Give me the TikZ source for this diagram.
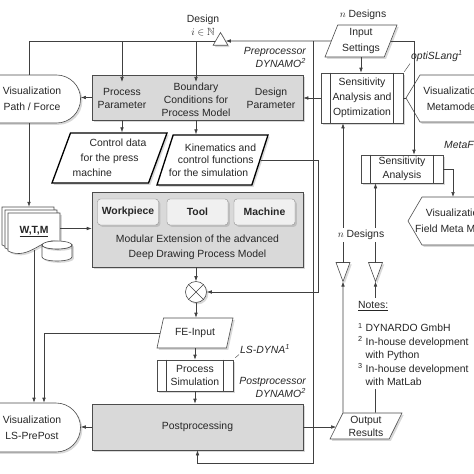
\documentclass[tikz,border=0pt]{standalone}
\usepackage{amssymb}
\usepackage{fontspec}
\setmainfont{Liberation Sans}
\usetikzlibrary{arrows.meta, shapes.geometric, shapes.misc, shadows}

\begin{document}
\begin{tikzpicture}[x=1pt, y=-1pt,
        every node/.style={font=\fontsize{10.4}{13}\selectfont, align=center, inner sep=1pt, text=black!85},
        wire/.style={draw=black!75, line width=0.6pt},
        arrowline/.style={wire, -{Latex[length=5pt, width=3.6pt]}},
        shadowed/.style={drop shadow={opacity=0.3, shadow xshift=1.8pt, shadow yshift=-1.8pt}},
        plainbox/.style={draw=black!70, fill=white, line width=0.6pt, shadowed},
        greybox/.style={plainbox, fill=gray!30, minimum width=211pt},
        btn/.style={draw=black!45, fill=gray!12, rounded corners=3pt, minimum width=61pt, minimum height=26pt,
                    font=\fontsize{10.4}{13}\selectfont\bfseries, shadowed},
        procbox/.style={plainbox, minimum width=82pt},
        databox/.style={plainbox, trapezium, trapezium left angle=65, trapezium right angle=115,
                        trapezium stretches body, inner xsep=0pt},
        boldbox/.style={databox, draw=black, line width=1.3pt, align=left},
        visbox/.style={plainbox, rounded rectangle, rounded rectangle left arc=none, minimum width=96pt,
                       font=\fontsize{10.4}{16}\selectfont},
        metatext/.style={font=\fontsize{10.4}{16}\selectfont},
        toollabel/.style={font=\fontsize{10.4}{13}\selectfont\itshape}]
        \useasboundingbox (0,0) rectangle (474,474);

        % Define the preprocessor block
        \node[greybox, minimum height=45pt] (pre) at (197.5,97.5) {};
        \node (pp) at (122,98.5) {Process\\Parameter};
        \node (bc) at (196,100) {Boundary\\Conditions for\\Process Model};
        \node (dp) at (271,98.5) {Design\\Parameter};

        % Define the data for press and simulation
        \node[boldbox, minimum width=115pt, minimum height=50pt, inner xsep=-4pt,
              font=\fontsize{10.4}{15}\selectfont] (cd) at (109.5,158)
            {\hspace*{17pt}Control data\\\hspace*{8pt}for the press\\machine};
        \node[boldbox, minimum width=111pt, minimum height=50pt, inner xsep=-12pt,
              font=\fontsize{10.4}{12.5}\selectfont] (kin) at (212.5,160)
            {\hspace*{16pt}Kinematics and\\\hspace*{9pt}control functions\\for the simulation};

        % Define the modular process model
        \node[greybox, minimum height=75pt] (mod) at (197.5,229.5) {};
        \node[btn] (wp) at (128,212) {Workpiece};
        \node[btn] (tl) at (197.5,212) {Tool};
        \node[btn] (mach) at (264.5,212) {Machine};
        \node[font=\fontsize{10.4}{15}\selectfont] (modtext) at (197.5,247.5)
            {Modular Extension of the advanced\\Deep Drawing Process Model};

        % Define the simulation chain
        \node[circle, plainbox, minimum size=21pt, inner sep=0pt] (mix) at (196,292) {};
        \draw[wire] (mix.north west) -- (mix.south east) (mix.north east) -- (mix.south west);
        \node[databox, trapezium left angle=60, trapezium right angle=120, minimum width=76pt,
              minimum height=30pt] (fei) at (195,333) {FE-Input};
        \node[procbox, minimum width=76pt, minimum height=31pt] (psim) at (195,375.5) {Process\\Simulation};
        \node[greybox, minimum height=46pt] (post) at (197.5,427) {Postprocessing};

        % Define visualizations
        \node[visbox, minimum height=48pt] (vpf) at (32,99) {Visualization\\Path / Force};
        \node[visbox, minimum height=49pt] (vlp) at (32,427.5) {Visualization\\LS-PrePost};
        \coordinate (vmmtip) at (406,98);
        \coordinate (vfmtip) at (408,221);
        \coordinate (vfmtop) at (453,197);
        \draw[plainbox] (vmmtip) -- (420,75) -- (492,75) -- (492,122) -- (420,122) -- cycle;
        \draw[plainbox] (vfmtip) -- (422,197) -- (492,197) -- (492,245) -- (422,245) -- cycle;
        \node[metatext] (vmm) at (452.5,98.5) {Visualization\\Metamodel};
        \node[metatext] (vfm) at (455,221) {Visualization\\Field Meta Model};

        % Define the optimization side
        \node[databox, minimum width=72pt, minimum height=32pt, font=\fontsize{10.4}{16}\selectfont] (ins) at (361,41)
            {Input\\Settings};
        \node[procbox, minimum height=50pt, font=\fontsize{10.4}{15}\selectfont] (sao) at (362,98)
            {Sensitivity\\Analysis and\\Optimization};
        \node[procbox, minimum height=28pt, font=\fontsize{10.4}{14}\selectfont] (sa) at (402,169)
            {Sensitivity\\Analysis};
        \node[databox, trapezium left angle=60, trapezium right angle=120, minimum width=72pt,
              minimum height=26pt] (out) at (366,426) {Output\\Results};
        \foreach \n in {sao,sa,psim}
            \draw[wire] ([xshift=10pt]\n.north west) -- ([xshift=10pt]\n.south west)
                        ([xshift=-10pt]\n.north east) -- ([xshift=-10pt]\n.south east);

        % Define the design triangles
        \node[regular polygon, regular polygon sides=3, plainbox, minimum size=17pt, inner sep=0pt] (dtri) at (220.5,41) {};
        \coordinate (t1) at (343,272);
        \coordinate (t2) at (375.5,272);
        \foreach \t in {t1,t2}
            \draw[plainbox] ([shift={(-7pt,9.5pt)}]\t) -- ([shift={(7pt,9.5pt)}]\t) -- ([yshift=-9.5pt]\t) -- cycle;

        % W,T,M documents and database
        \foreach \d in {6,3,0}
            \draw[plainbox] (8-\d,213-\d) -- (60-\d,213-\d) -- (60-\d,243-\d)
                .. controls (45-\d,233-\d) and (30-\d,262-\d) .. (8-\d,251-\d) -- cycle;
        \node[minimum width=52pt, minimum height=37pt, inner sep=0pt] (wtm) at (34,231.5) {\textbf{\underline{W,T,M}}};
        \draw[plainbox] (42,245) -- (42,257) arc[start angle=180, end angle=0, x radius=15, y radius=4]
            -- (72,245) arc[start angle=0, end angle=180, x radius=15, y radius=4] -- cycle;
        \draw[plainbox] (57,245) ellipse [x radius=15, y radius=4];

        % Define connections of the design loop
        \coordinate (j1) at (313,41);
        \coordinate (k1) at (318,292);
        \draw[arrowline] (ins.west) -- (dtri.east);
        \draw[wire] (dtri.west) -| ([xshift=-3pt]vpf.north);
        \draw[arrowline] ([xshift=-3pt]vpf.south) -- ([shift={(-5pt,6pt)}]wtm.north);
        \draw[arrowline] (pp.north |- dtri.west) -- (pp.north |- bc.north);
        \draw[arrowline] (bc.north |- dtri.west) -- (bc.north);
        \draw[arrowline] (sao.west) -- (sao.west -| pre.east);
        \draw[wire] (sao.east) -- (vmmtip);
        \draw[arrowline] (ins.south) -- (ins.south |- sao.north);
        \draw[arrowline] (ins.east) -| ([xshift=12pt]sa.north);
        \draw[arrowline] (sa.east) -| (vfmtop);

        % Define connections of the process chain
        \draw[arrowline] (pre.west) -- (pre.west -| vpf.east);
        \draw[arrowline] (pp |- pre.south) -- (pp |- cd.north);
        \draw[arrowline] (bc |- pre.south) -- (bc |- kin.north);
        \draw[arrowline] (kin.east) -| (k1) -- (mix.east);
        \draw[arrowline] ([yshift=3pt]wtm.east) -- ([yshift=3pt]wtm.east -| mod.west);
        \draw[arrowline] (mix |- mod.south) -- (mix.north);
        \draw[arrowline] (mix.south) -- (mix.south |- fei.north);
        \draw[arrowline] (psim |- fei.south) -- (psim.north);
        \draw[arrowline] (psim.south) -- (psim.south |- post.north);
        \draw[arrowline] (fei.west) -| ([xshift=12pt]vlp.north);
        \draw[arrowline] (wtm.south) -- (wtm.south |- vlp.north);
        \draw[arrowline] (post.west) -- (post.west -| vlp.east);
        \draw[arrowline] (post.east) -- (post.east -| out.west);
        \draw[arrowline] (j1) |- ([yshift=-13pt]post.south) -- (post.south);

        % Define connections back to the optimization
        \draw[arrowline] ([xshift=-23pt]out.north) -- ([yshift=-9.5pt]t1);
        \draw[arrowline] ([yshift=9.5pt]t1) -- (t1 |- sao.south);
        \draw[arrowline] ([xshift=9.5pt]out.north) -- ([yshift=-9.5pt]t2);
        \draw[arrowline] ([yshift=9.5pt]t2) -- (t2 |- sa.south);

        % Labels
        \node (nd1) at (363,15) {$n$ Designs};
        \node[fill=white, inner sep=2pt] (nd2) at (361,235) {$n$ Designs};
        \node (des) at (203,25) {Design\\$i\in\mathbb{N}$};
        \node[toollabel, align=right, anchor=east] (prelab) at (307,57.5) {Preprocessor\\DYNAMO\textsuperscript{2}};
        \node[toollabel, align=right, anchor=east] (postlab) at (307,387.5) {Postprocessor\\DYNAMO\textsuperscript{2}};
        \node[toollabel, anchor=west, inner sep=0pt] (opti) at (411,56) {optiSLang\textsuperscript{1}};
        \node[toollabel, anchor=west, inner sep=0pt] (lsd) at (240,349) {LS-DYNA\textsuperscript{1}};
        \node[toollabel, anchor=west, inner sep=0pt] (meta) at (444,145) {MetaF};
        \draw[wire, thin] ([shift={(1pt,1pt)}]sao.north east) -- ([shift={(-1pt,-2pt)}]opti.south west);
        \draw[wire, thin] ([shift={(2pt,2pt)}]psim.north east) -- ([shift={(-1pt,-1pt)}]lsd.south west);
        \node[fill=white, anchor=north west, align=left, inner sep=3pt,
              font=\fontsize{10.4}{13.5}\selectfont] (notes) at (355,298)
            {\underline{Notes:}\\[10pt]
             \textsuperscript{1} DYNARDO GmbH\\
             \textsuperscript{2} In-house development\\
             \hphantom{\textsuperscript{2} }with Python\\
             \textsuperscript{3} In-house development\\
             \hphantom{\textsuperscript{3} }with MatLab};

    \end{tikzpicture}
\end{document}
